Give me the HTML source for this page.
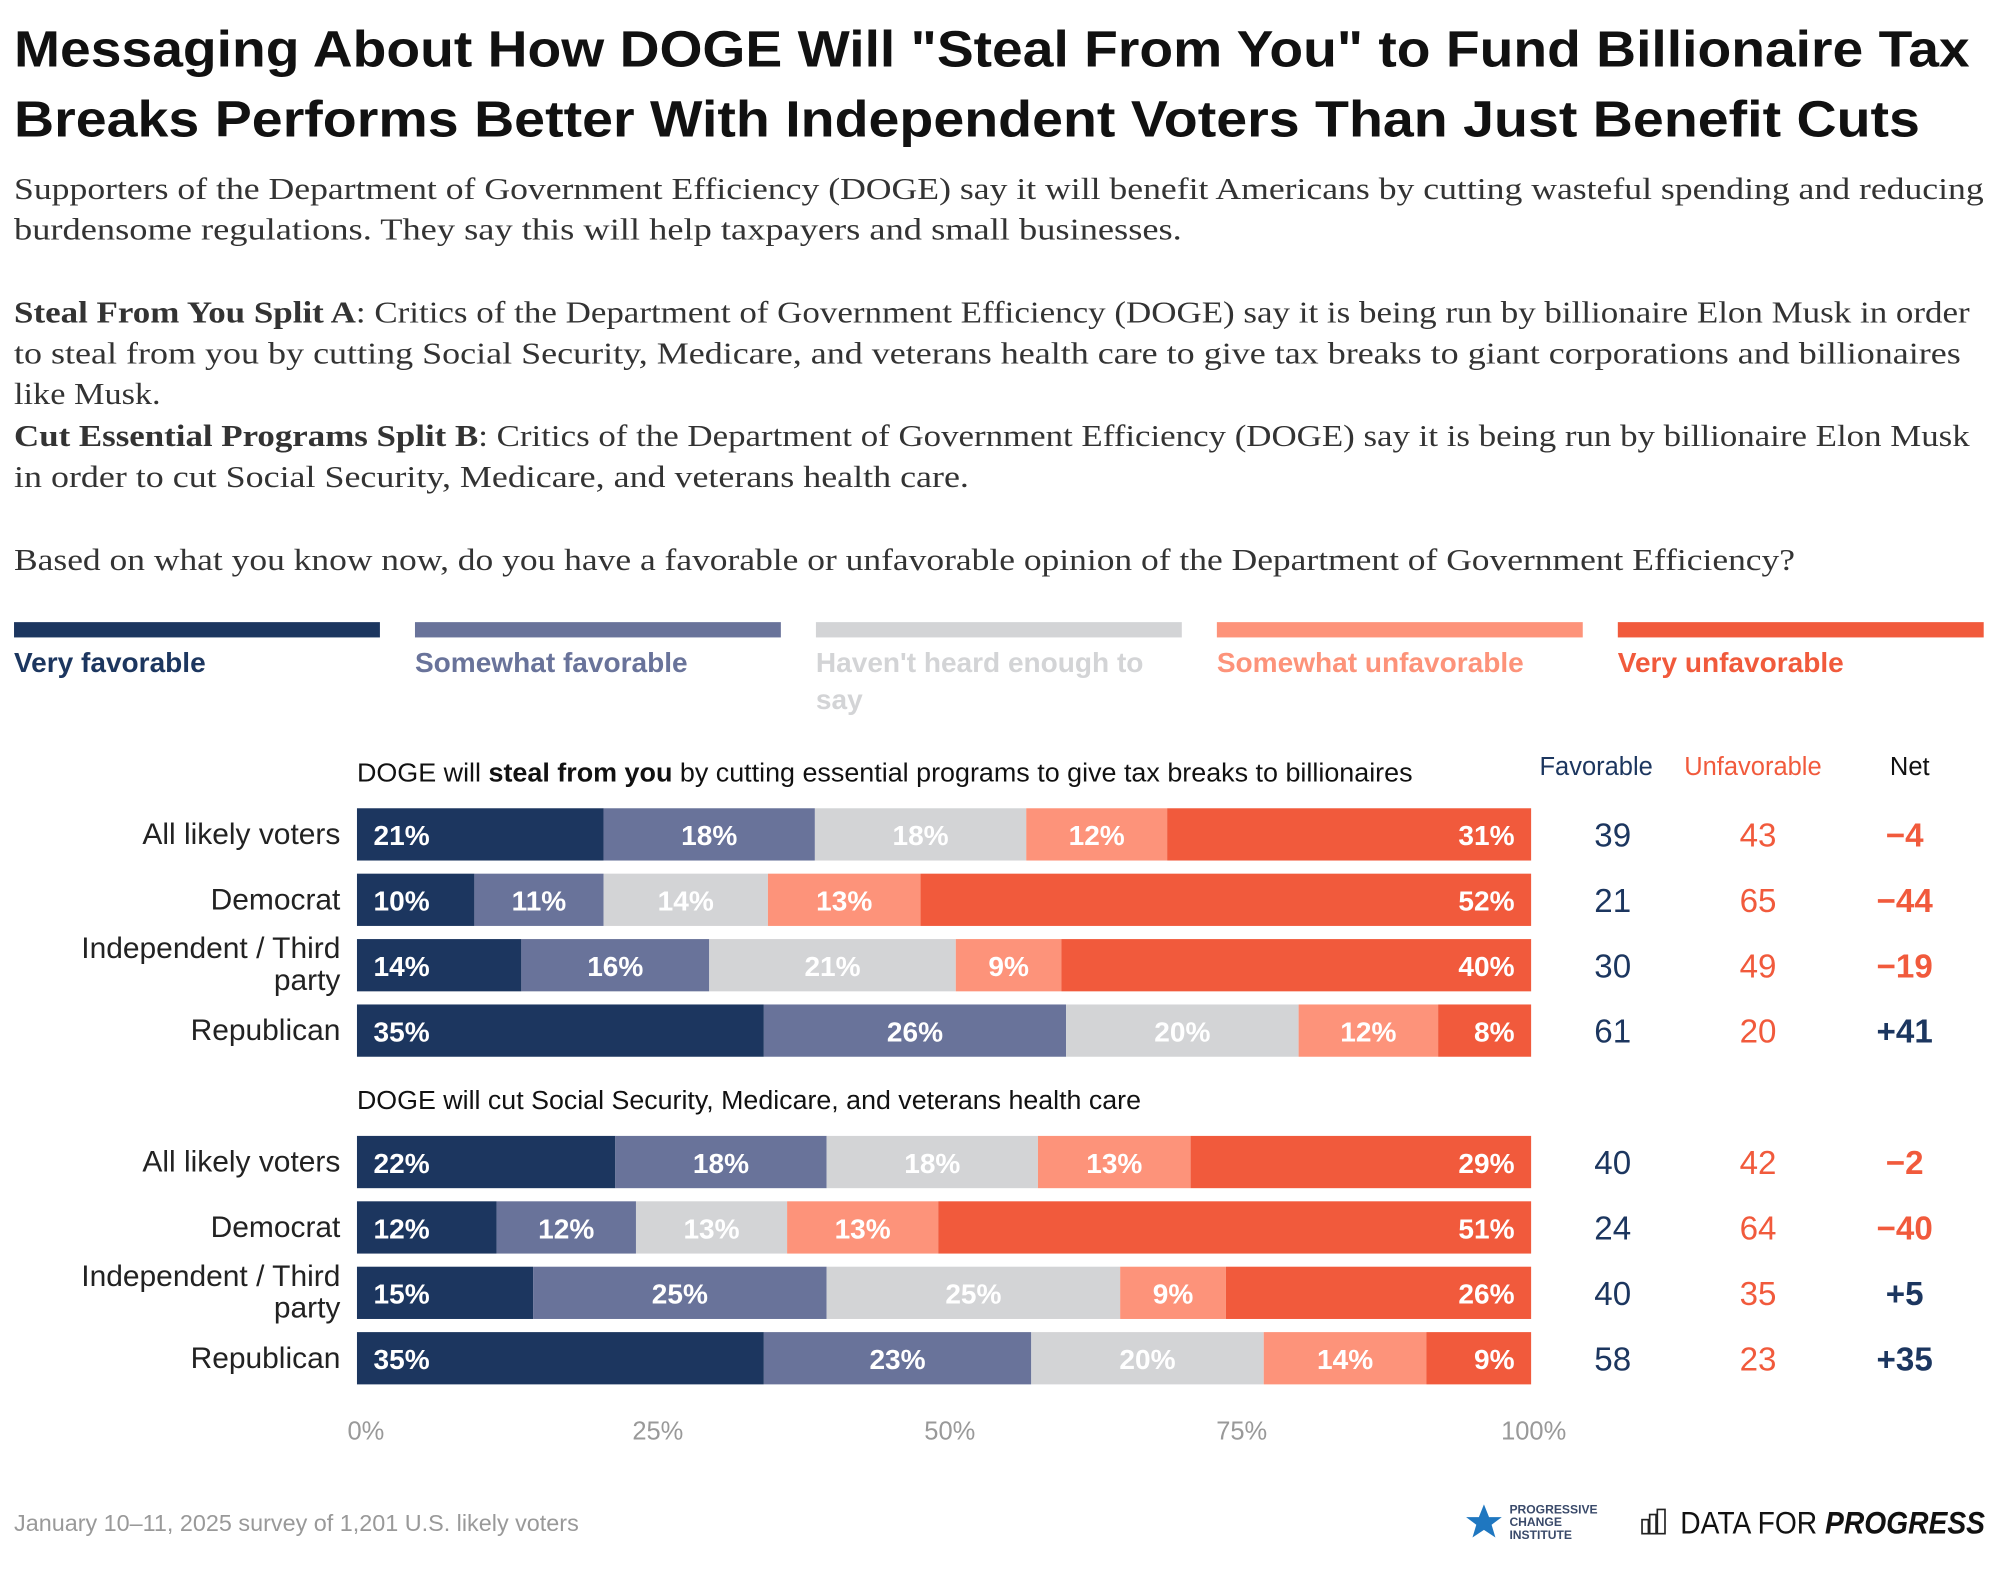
<!DOCTYPE html>
<html><head><meta charset="utf-8"><style>
html,body{margin:0;padding:0;background:#fff;}
svg{display:block;}
.t{font-family:"Liberation Sans",sans-serif;}
.s{font-family:"Liberation Serif",serif;}
</style></head><body>
<svg id="chart" width="1999" height="1570" viewBox="0 0 1568 1231.5" xmlns="http://www.w3.org/2000/svg">
<rect width="1568" height="1232" fill="#fff"/>
<g class="t" font-weight="bold" font-size="40" fill="#111">
<text x="11" y="52" textLength="1534" lengthAdjust="spacingAndGlyphs">Messaging About How DOGE Will "Steal From You" to Fund Billionaire Tax</text>
<text x="11" y="107" textLength="1495" lengthAdjust="spacingAndGlyphs">Breaks Performs Better With Independent Voters Than Just Benefit Cuts</text>
</g>
<g class="s" font-size="24" fill="#333">
<text x="11" y="156" textLength="1545" lengthAdjust="spacingAndGlyphs">Supporters of the Department of Government Efficiency (DOGE) say it will benefit Americans by cutting wasteful spending and reducing</text>
<text x="11" y="188" textLength="916" lengthAdjust="spacingAndGlyphs">burdensome regulations. They say this will help taxpayers and small businesses.</text>
<text x="11" y="253" textLength="1534" lengthAdjust="spacingAndGlyphs"><tspan font-weight="bold">Steal From You Split A</tspan>: Critics of the Department of Government Efficiency (DOGE) say it is being run by billionaire Elon Musk in order</text>
<text x="11" y="285" textLength="1527" lengthAdjust="spacingAndGlyphs">to steal from you by cutting Social Security, Medicare, and veterans health care to give tax breaks to giant corporations and billionaires</text>
<text x="11" y="317" textLength="115" lengthAdjust="spacingAndGlyphs">like Musk.</text>
<text x="11" y="350" textLength="1534" lengthAdjust="spacingAndGlyphs"><tspan font-weight="bold">Cut Essential Programs Split B</tspan>: Critics of the Department of Government Efficiency (DOGE) say it is being run by billionaire Elon Musk</text>
<text x="11" y="382" textLength="749" lengthAdjust="spacingAndGlyphs">in order to cut Social Security, Medicare, and veterans health care.</text>
<text x="11" y="447" textLength="1397" lengthAdjust="spacingAndGlyphs">Based on what you know now, do you have a favorable or unfavorable opinion of the Department of Government Efficiency?</text>
</g>
<g id="legend" class="t" font-size="22" font-weight="bold"></g>
<g id="bars" class="t"></g>
<g class="t" font-size="20" fill="#111">
<text x="280" y="613" textLength="828" lengthAdjust="spacingAndGlyphs">DOGE will <tspan font-weight="bold">steal from you</tspan> by cutting essential programs to give tax breaks to billionaires</text>
<text x="280" y="870" textLength="615" lengthAdjust="spacingAndGlyphs">DOGE will cut Social Security, Medicare, and veterans health care</text>
</g>
<g class="t" font-size="20" text-anchor="middle">
<text x="1252" y="608" fill="#1c365f">Favorable</text>
<text x="1375" y="608" fill="#f15a3c">Unfavorable</text>
<text x="1498" y="608" fill="#111">Net</text>
</g>
<g id="axis" class="t" font-size="20" fill="#999" text-anchor="middle"></g>
<text class="t" x="11" y="1201" font-size="18" fill="#999" textLength="443" lengthAdjust="spacingAndGlyphs">January 10–11, 2025 survey of 1,201 U.S. likely voters</text>
<g>
<polygon points="1164,1180 1168,1190 1178,1190 1170,1196 1173,1206 1164,1200 1155,1206 1158,1196 1150,1190 1160,1190" fill="#1f77c0"/>
<g class="t" font-size="9.5" font-weight="bold" fill="#3a4a6a">
<text x="1184" y="1187">PROGRESSIVE</text><text x="1184" y="1197">CHANGE</text><text x="1184" y="1207">INSTITUTE</text></g>
</g>
<g fill="none" stroke="#222" stroke-width="1.3">
<rect x="1288" y="1192" width="5" height="11"/><rect x="1294" y="1188" width="5" height="15"/><rect x="1300" y="1184" width="6" height="19"/>
</g>
<text class="t" x="1318" y="1203" font-size="25" fill="#111" textLength="239" lengthAdjust="spacingAndGlyphs">DATA FOR <tspan font-weight="bold" font-style="italic">PROGRESS</tspan></text>
</svg>
<script>
const categories = ["All likely voters","Democrat","Independent / Third party","Republican"];
const seriesNames = ["Very favorable","Somewhat favorable","Haven't heard enough to say","Somewhat unfavorable","Very unfavorable"];
const groupA = [[21,18,18,12,31],[10,11,14,13,52],[14,16,21,9,40],[35,26,20,12,8]];
const groupB = [[22,18,18,13,29],[12,12,13,13,51],[15,25,25,9,26],[35,23,20,14,9]];
const favA = [39,21,30,61], unfavA = [43,65,49,20], netA = [-4,-44,-19,41];
const favB = [40,24,40,58], unfavB = [42,64,35,23], netB = [-2,-40,5,35];
const ticks = [0,25,50,75,100];

const colors = ["#1c365f","#69739a","#d3d4d6","#fd937a","#f15a3c"];
const ns = "http://www.w3.org/2000/svg";
const X0 = 280, W = 921;
const xs = p => X0 + p / 100 * W;
function mk(tag, attrs, parent, txt){
  const e = document.createElementNS(ns, tag);
  for (const k in attrs) e.setAttribute(k, attrs[k]);
  if (txt !== undefined) e.textContent = txt;
  parent.appendChild(e); return e;
}
const lg = document.getElementById('legend');
seriesNames.forEach((n, i) => {
  const x = 11 + i * 314.5;
  const r = mk('rect', {x: x, y: 488, width: 287, height: 12, fill: colors[i]}, lg);
  
  
  const c = i === 2 ? "#d3d4d6" : colors[i];
  if (i === 2) {
    const t = mk('text', {x: x, y: 527, fill: c}, lg, "Haven't heard enough to");
    
    
    mk('text', {x: x, y: 556, fill: c}, lg, "say");
  } else {
    const t = mk('text', {x: x, y: 527, fill: c}, lg, n);
    
    
  }
});
const bg = document.getElementById('bars');
function drawGroup(data, fav, unfav, net, top){
  data.forEach((row, r) => {
    const y = top + r * 51.3, h = 41;
    const sum = row.reduce((a, b) => a + b, 0);
    let acc = 0;
    const lab = categories[r];
    if (lab.indexOf('/') > 0) {
      const t = mk('text', {x: 267, y: y + 15, 'text-anchor': 'end', 'font-size': 23.5, fill: '#222'}, bg, 'Independent / Third');
      
      
      mk('text', {x: 267, y: y + 40, 'text-anchor': 'end', 'font-size': 23.5, fill: '#222'}, bg, 'party');
    } else {
      const t = mk('text', {x: 267, y: y + 28, 'text-anchor': 'end', 'font-size': 23.5, fill: '#222'}, bg, lab);
      
      
    }
    row.forEach((v, i) => {
      const x1 = xs(acc / sum * 100), x2 = xs((acc + v) / sum * 100);
      const b = mk('rect', {x: x1, y: y, width: x2 - x1, height: h, fill: colors[i]}, bg);
      
      
      let tx, anc;
      if (i === 0) { tx = x1 + 13; anc = 'start'; }
      else if (i === 4) { tx = x2 - 13; anc = 'end'; }
      else { tx = (x1 + x2) / 2; anc = 'middle'; }
      const t = mk('text', {x: tx, y: y + 29, 'text-anchor': anc, 'font-size': 22, 'font-weight': 'bold', fill: '#fff'}, bg, v + '%');
      
      
      acc += v;
    });
    const f = mk('text', {x: 1265, y: y + 30, 'text-anchor': 'middle', 'font-size': 26, fill: '#1c365f'}, bg, fav[r]);
    
    
    const u = mk('text', {x: 1379, y: y + 30, 'text-anchor': 'middle', 'font-size': 26, fill: '#f15a3c'}, bg, unfav[r]);
    
    
    const nv = net[r];
    const n = mk('text', {x: 1494, y: y + 30, 'text-anchor': 'middle', 'font-size': 26, 'font-weight': 'bold', fill: nv < 0 ? '#f15a3c' : '#1c365f'}, bg, (nv < 0 ? '\u2212' + (-nv) : '+' + nv));
    
    
  });
}
drawGroup(groupA, favA, unfavA, netA, 634);
drawGroup(groupB, favB, unfavB, netB, 891);
const ax = document.getElementById('axis');
ticks.forEach(v => {
  const t = mk('text', {x: xs(v) + 7 - v * 0.05, y: 1129}, ax, v + '%');
  
  
});
</script>
</body></html>
